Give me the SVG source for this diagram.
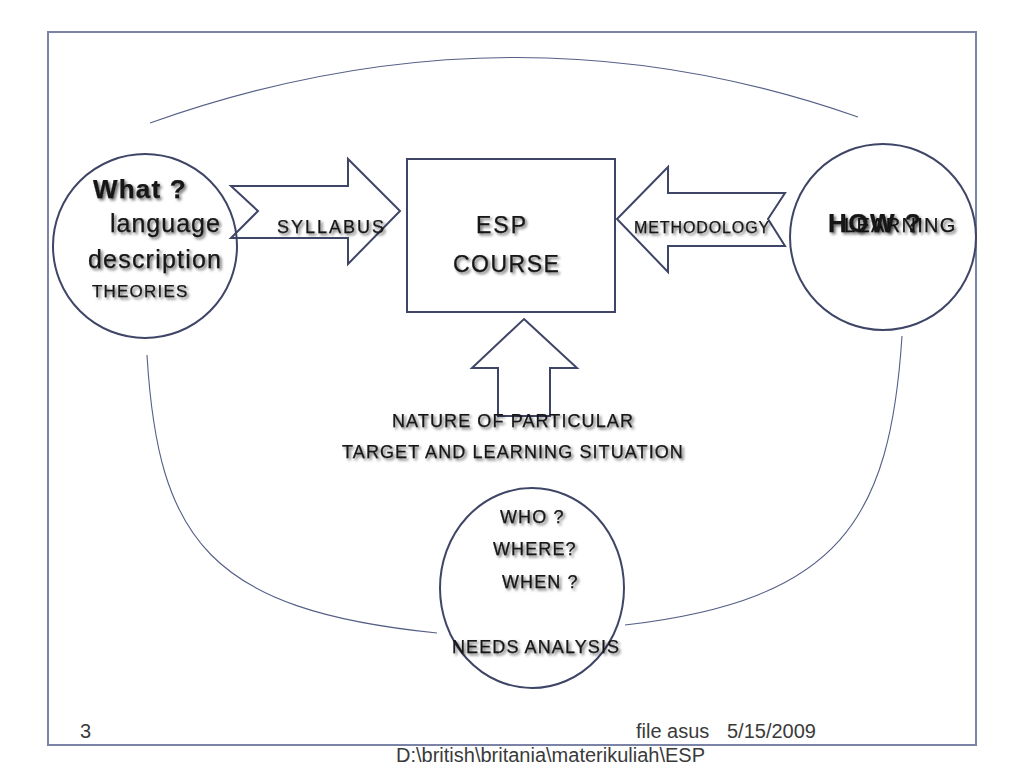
<svg xmlns="http://www.w3.org/2000/svg" width="1024" height="768" viewBox="0 0 1024 768">
<defs>
<filter id="sh" x="-10%" y="-30%" width="130%" height="180%">
<feGaussianBlur in="SourceAlpha" stdDeviation="1.6"/>
<feOffset dx="1.5" dy="2" result="b"/>
<feComponentTransfer><feFuncA type="linear" slope="0.6"/></feComponentTransfer>
<feMerge><feMergeNode/><feMergeNode in="SourceGraphic"/></feMerge>
</filter>
<style>
.shape{fill:none;stroke:#3f4566;stroke-width:2}
.arrow{fill:#fff;stroke:#3f4566;stroke-width:2;stroke-linejoin:miter}
.curve{fill:none;stroke:#566087;stroke-width:1.1}
.t{font-family:"Liberation Sans",Arial,sans-serif;fill:#151515;stroke:#151515;stroke-width:0.25;filter:url(#sh)}
.cap{font-size:18px;letter-spacing:1.1px}
.big{font-size:25px;letter-spacing:1px}
.bold{font-weight:bold}
.foot{font-family:"Liberation Sans",Arial,sans-serif;font-size:20px;fill:#3a3a3a}
</style>
</defs>
<rect x="48" y="32" width="928" height="713" fill="#fff" stroke="#7b83a7" stroke-width="2"/>

<g id="connectors">
<path class="curve" d="M150,123 Q510,-5 858,117"/>
<path class="curve" d="M147,355 C158,540 210,610 437,633"/>
<path class="curve" d="M902,336 C890,520 840,600 625,625"/>
</g>

<g id="arrow-syllabus">
<polygon class="arrow" points="231,186 348,186 348,159 400,211 348,264 348,238 231,238 258,211"/>
<text class="t cap" x="277" y="233" style="letter-spacing:2px">SYLLABUS</text>
</g>

<g id="arrow-methodology">
<polygon class="arrow" points="785,193 668,193 668,167 617,219 668,272 668,246 785,246 768,219"/>
<text class="t" x="634" y="233" style="font-size:16px;letter-spacing:0.9px">METHODOLOGY</text>
</g>

<g id="arrow-nature">
<polygon class="arrow" points="524,319 577,368 550,368 550,416 498,416 498,368 472,368"/>
</g>

<g id="node-what">
<circle class="shape" cx="145" cy="246" r="92"/>
<text class="t bold" x="93" y="198" style="font-size:26px;letter-spacing:1.2px">What ?</text>
<text class="t big" x="110" y="232">language</text>
<text class="t big" x="88" y="268" style="letter-spacing:1.2px">description</text>
<text class="t" x="92" y="297" style="font-size:17px;letter-spacing:1.2px">THEORIES</text>
</g>

<g id="node-esp">
<rect class="shape" x="407" y="159" width="208" height="153"/>
<text class="t" x="476" y="233" style="font-size:23px;letter-spacing:2px">ESP</text>
<text class="t" x="453" y="272" style="font-size:23px;letter-spacing:1.5px">COURSE</text>
</g>

<g id="node-how">
<circle class="shape" cx="883" cy="237" r="93"/>
<text class="t" x="844" y="232" style="font-size:20px;letter-spacing:1.3px">LEARNING</text>
<text class="t bold" x="828" y="232" style="font-size:26px;letter-spacing:1.5px">HOW ?</text>
</g>

<g id="label-nature">
<text class="t cap" x="513" y="427" text-anchor="middle">NATURE OF PARTICULAR</text>
<text class="t cap" x="513" y="458" text-anchor="middle">TARGET AND LEARNING SITUATION</text>
</g>

<g id="node-needs">
<ellipse class="shape" cx="532" cy="588" rx="92" ry="100"/>
<text class="t cap" x="500" y="523">WHO ?</text>
<text class="t cap" x="493" y="555">WHERE?</text>
<text class="t cap" x="502" y="588">WHEN ?</text>
<text class="t cap" x="452" y="653">NEEDS ANALYSIS</text>
</g>

<g id="footer">
<text class="foot" x="80" y="738">3</text>
<text class="foot" x="636" y="738">file asus</text>
<text class="foot" x="727" y="738">5/15/2009</text>
<text class="foot" x="396" y="762">D:\british\britania\materikuliah\ESP</text>
</g>
</svg>
